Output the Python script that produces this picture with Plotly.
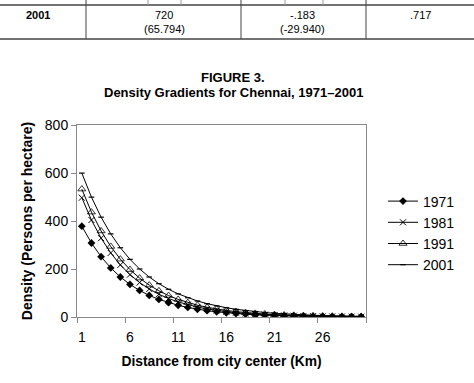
import plotly.graph_objects as go

distance_km = list(range(1, 31))
years = ["1971", "1981", "1991", "2001"]

density_1971 = [378.5, 308.3, 251.2, 204.6, 166.7, 135.8, 110.6, 90.1, 73.4, 59.8,
                48.7, 39.7, 32.3, 26.3, 21.5, 17.5, 14.2, 11.6, 9.4, 7.7,
                6.3, 5.1, 4.2, 3.4, 2.8, 2.2, 1.8, 1.5, 1.2, 1.0]
density_1981 = [497, 404, 328.5, 267, 217, 176.5, 143.5, 116.7, 94.9, 77.1,
                62.7, 51, 41.4, 33.7, 27.4, 22.3, 18.1, 14.7, 12, 9.7,
                7.9, 6.4, 5.2, 4.3, 3.5, 2.8, 2.3, 1.9, 1.5, 1.2]
density_1991 = [533, 437, 358.4, 293.9, 241, 197.6, 162, 132.9, 109, 89.3,
                73.3, 60.1, 49.3, 40.4, 33.1, 27.2, 22.3, 18.3, 15, 12.3,
                10.1, 8.2, 6.8, 5.5, 4.5, 3.7, 3.1, 2.5, 2.1, 1.7]
density_2001 = [599.6, 499.4, 415.9, 346.4, 288.5, 240.2, 200.1, 166.6, 138.8, 115.6,
                96.3, 80.2, 66.8, 55.6, 46.3, 38.6, 32.1, 26.7, 22.3, 18.6,
                15.5, 12.9, 10.7, 8.9, 7.4, 6.2, 5.2, 4.3, 3.6, 3.0]

x_tick_vals = [1, 6, 11, 16, 21, 26]
y_tick_vals = [0, 200, 400, 600, 800]

# table fragment above the figure
table_row = ["2001", "720", "-.183", ".717"]
table_row_sub = ["", "(65.794)", "(-29.940)", ""]

FONT = "Liberation Sans, Arial, sans-serif"
W, H = 474, 383
L, R, T, B = 77, 108, 125, 66
PW, PH = W - L - R, H - T - B

def px(x):
    return (x - L) / PW

def py(y):
    return (H - B - y) / PH

fig = go.Figure()
styles = [
    dict(symbol="diamond", size=6, color="black"),
    dict(symbol="x-thin-open", size=6, color="black", line=dict(width=1, color="black")),
    dict(symbol="triangle-up-open", size=7, color="black", line=dict(width=0.8, color="black")),
    dict(symbol="line-ew-open", size=4, color="black", line=dict(width=1.2, color="black")),
]
for name, vals, mk in zip(years, [density_1971, density_1981, density_1991, density_2001], styles):
    fig.add_trace(go.Scatter(x=distance_km, y=vals, name=name, mode="lines+markers",
                             line=dict(color="black", width=1), marker=mk))

shapes = []
line_col = "#444444"
for yy in [5, 39]:
    shapes.append(dict(type="line", xref="paper", yref="paper", x0=px(0), x1=px(W),
                       y0=py(yy), y1=py(yy), line=dict(color=line_col, width=1.5)))
for xx in [86, 241, 366]:
    shapes.append(dict(type="line", xref="paper", yref="paper", x0=px(xx), x1=px(xx),
                       y0=py(0), y1=py(39), line=dict(color=line_col, width=1)))
for xx in [148, 181, 285, 323]:
    shapes.append(dict(type="line", xref="paper", yref="paper", x0=px(xx), x1=px(xx),
                       y0=py(0), y1=py(5), line=dict(color="#999999", width=1)))

annotations = []
col_x = [38, 164, 302, 420]
for i, (a, b) in enumerate(zip(table_row, table_row_sub)):
    txt = "<b>%s</b>" % a if i == 0 else a
    annotations.append(dict(text=txt, x=px(col_x[i]), y=py(15), xref="paper", yref="paper",
                            showarrow=False, xanchor="center", yanchor="middle",
                            font=dict(family=FONT, size=11, color="black")))
    if b:
        annotations.append(dict(text=b, x=px(col_x[i]), y=py(29), xref="paper", yref="paper",
                                showarrow=False, xanchor="center", yanchor="middle",
                                font=dict(family=FONT, size=11, color="black")))
annotations.append(dict(text="<b>FIGURE 3.</b>", x=px(233), y=py(78), xref="paper", yref="paper",
                        showarrow=False, xanchor="center", yanchor="middle",
                        font=dict(family=FONT, size=13, color="black")))
annotations.append(dict(text="<b>Density Gradients for Chennai, 1971–2001</b>", x=px(233), y=py(93),
                        xref="paper", yref="paper", showarrow=False, xanchor="center", yanchor="middle",
                        font=dict(family=FONT, size=13, color="black")))

fig.update_layout(
    width=W, height=H,
    margin=dict(l=L, r=R, t=T, b=B, pad=0, autoexpand=False),
    paper_bgcolor="white", plot_bgcolor="white",
    font=dict(family=FONT, size=14, color="black"),
    showlegend=True,
    legend=dict(x=px(383), y=py(233), xanchor="left", yanchor="middle",
                font=dict(family=FONT, size=14, color="black"),
                bgcolor="rgba(0,0,0,0)", itemwidth=30, tracegroupgap=0),
    shapes=shapes,
    annotations=annotations,
    xaxis=dict(range=[0.5, 30.5], tickmode="array", tickvals=x_tick_vals,
               ticktext=[str(v) for v in x_tick_vals], ticks="outside", ticklen=7,
               tickcolor="rgba(0,0,0,0)", showgrid=False,
               showline=True, linecolor="#888888", linewidth=1, mirror=True,
               zeroline=False, automargin=False,
               minor=dict(tickmode="linear", tick0=0.5, dtick=5, ticks="outside",
                          ticklen=5, tickcolor="#888888", showgrid=False),
               title=dict(text="<b>Distance from city center (Km)</b>", standoff=12,
                          font=dict(family=FONT, size=13.8)),
               tickfont=dict(family=FONT, size=14)),
    yaxis=dict(range=[0, 800], tickmode="array", tickvals=y_tick_vals, ticks="outside",
               ticklen=5, tickcolor="#888888", showgrid=False, zeroline=False,
               showline=True, linecolor="#888888", linewidth=1, mirror=True,
               automargin=False,
               title=dict(text="<b>Density (Persons per hectare)</b>", standoff=8,
                          font=dict(family=FONT, size=14)),
               tickfont=dict(family=FONT, size=14)),
)

fig.write_html("out.html", config={"displayModeBar": False},
               post_script="document.body.style.margin='0';")
